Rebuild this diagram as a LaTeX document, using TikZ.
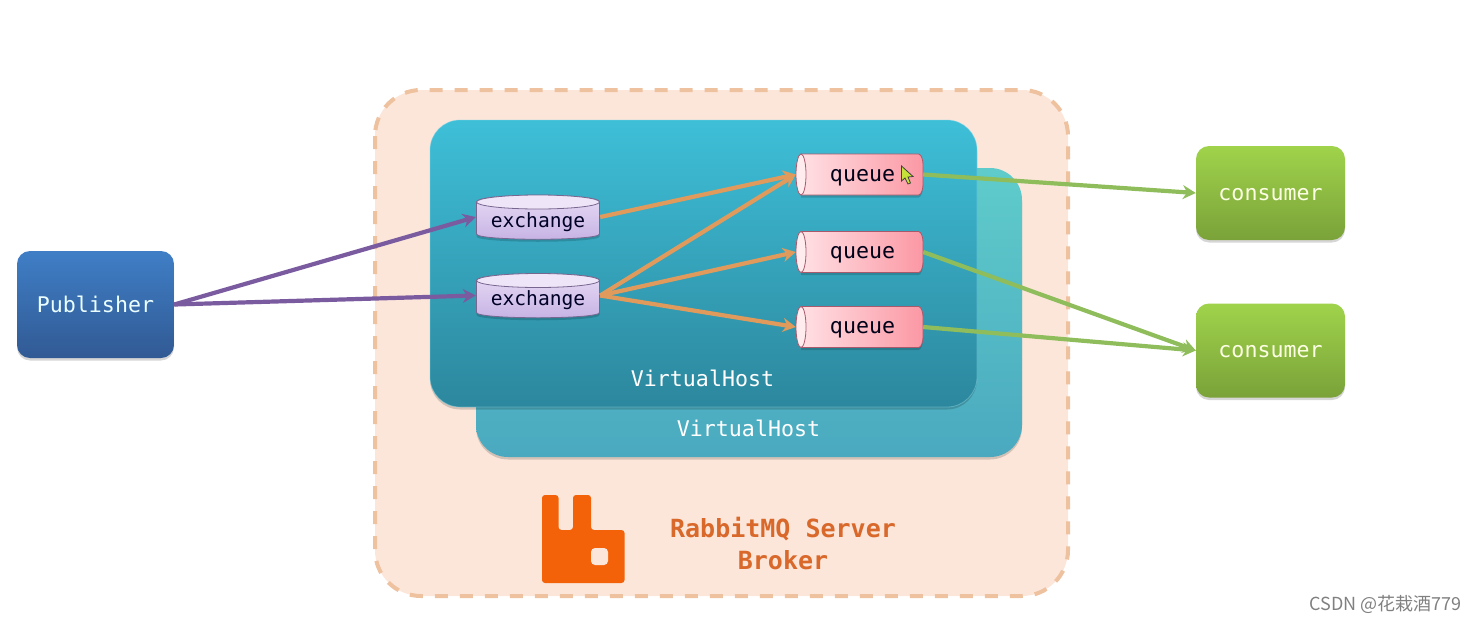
\documentclass[tikz,border=0pt]{standalone}
\usepackage{fontspec}
\setmonofont{DejaVu Sans Mono}
\newfontfamily\cjkwm{Noto Sans CJK SC}
\usetikzlibrary{arrows.meta,shadows}
\definecolor{brokerfill}{HTML}{FCE6DA}
\definecolor{brokerline}{HTML}{EEC19F}
\definecolor{vhbacktop}{HTML}{5FCCCB}
\definecolor{vhbackbot}{HTML}{4AA9BF}
\definecolor{vhfronttop}{HTML}{3EBFD8}
\definecolor{vhfrontbot}{HTML}{2C879D}
\definecolor{pubtop}{HTML}{3F7EC6}
\definecolor{pubbot}{HTML}{315A94}
\definecolor{contop}{HTML}{A0D34B}
\definecolor{conbot}{HTML}{7AA239}
\definecolor{extop}{HTML}{E8DCF5}
\definecolor{exbot}{HTML}{C6B2E4}
\definecolor{exline}{HTML}{77668F}
\definecolor{qleft}{HTML}{FFE0E4}
\definecolor{qright}{HTML}{FB98A4}
\definecolor{qline}{HTML}{A85A6C}
\definecolor{rabbit}{HTML}{F36209}
\definecolor{rabbittext}{HTML}{D9682B}
\definecolor{arrorange}{HTML}{E09A5B}
\definecolor{arrgreen}{HTML}{8FBD5B}
\definecolor{arrpurple}{HTML}{7B5B9F}
\definecolor{pointer}{HTML}{C6E23A}
\tikzset{
  softshadow/.style={drop shadow={shadow xshift=0pt,shadow yshift=-2.5pt,opacity=.16,fill=black}},
  monotext/.style={font=\ttfamily\fontsize{21.6}{24}\selectfont},
  box/.style={rectangle,rounded corners=13,monotext,softshadow,inner sep=0pt},
  publisher/.style={box,top color=pubtop,bottom color=pubbot,text=blue!4!cyan!8!white,minimum width=157,minimum height=107},
  consumer/.style={box,top color=contop,bottom color=conbot,text=green!6!yellow!10!white,minimum width=149,minimum height=94,text height=14.5,text depth=0},
  vhlabel/.style={monotext,text=white,inner sep=0pt},
  exlabel/.style={font=\ttfamily\fontsize{19.6}{22}\selectfont,text=black!85!blue,inner sep=0pt,minimum width=124,minimum height=46,text height=20,text depth=0},
  qlabel/.style={monotext,text=black!90!blue,inner sep=0pt,minimum width=127,minimum height=41,text height=13,text depth=0},
  exbody/.style={draw=exline,line width=.8,top color=extop,bottom color=exbot,softshadow},
  excap/.style={draw=exline,line width=.8,fill=extop!75!white},
  qbody/.style={draw=qline,line width=.8,left color=qleft,right color=qright,softshadow},
  qcap/.style={draw=qline,line width=.8,fill=qleft!60!white},
  flow/.style={line width=4.2,-{Stealth[length=13,width=14]}},
  pflow/.style={flow,draw=arrpurple,arrpurple},
  oflow/.style={flow,draw=arrorange,arrorange},
  gflow/.style={flow,draw=arrgreen,arrgreen},
  brand/.style={font=\ttfamily\bfseries\fontsize{25}{28}\selectfont,text=rabbittext,inner sep=0pt},
}
\newcommand{\exchangenode}[3]{%
  \begin{scope}[shift={(#2,#3)}]
    \path[exbody] (-61.5,-15) -- (-61.5,17) .. controls (-61.5,24) and (61.5,24) .. (61.5,17) -- (61.5,-15) .. controls (61.5,-24) and (-61.5,-24) .. (-61.5,-15) -- cycle;
    \path[excap] (0,-15) ellipse [x radius=61.5,y radius=7];
  \end{scope}
  \node[exlabel] (#1) at (#2,#3) {exchange};
}
\newcommand{\queuenode}[3]{%
  \begin{scope}[shift={(#2,#3)}]
    \path[qbody] (-58.5,-20.5) -- (59,-20.5) .. controls (62,-20.5) and (63.5,-14) .. (63.5,-10) -- (63.5,10) .. controls (63.5,14) and (62,20.5) .. (59,20.5) -- (-58.5,20.5) -- cycle;
    \path[qcap] (-58.5,0) ellipse [x radius=5,y radius=20.5];
  \end{scope}
  \node[qlabel] (#1) at (#2,#3) {\hspace*{6pt}queue};
}
\begin{document}
\begin{tikzpicture}[x=1pt,y=-1pt]
\useasboundingbox (0,0) rectangle (1476,622);
% broker
\draw[fill=brokerfill,draw=brokerline,line width=4,dash pattern=on 13 off 12,rounded corners=46] (375,90) rectangle (1068,596);
% virtual hosts
\path[top color=vhbacktop,bottom color=vhbackbot,rounded corners=32,softshadow] (476,168) rectangle (1022,457);
\path[top color=vhfronttop,bottom color=vhfrontbot,rounded corners=30,softshadow,draw=vhfronttop!60!white,draw opacity=.45,line width=.8] (430,120) rectangle (977,407);
\node[vhlabel] (vh1) at (702.5,378) {VirtualHost};
\node[vhlabel] (vh2) at (748.5,428) {VirtualHost};
% logo
\path[fill=rabbit,rounded corners=3] (542,495) -- (558.5,495) -- (558.5,530) -- (573,530) -- (573,495) -- (591,495) -- (591,530) -- (624.5,530) -- (624.5,583) -- (542,583) -- cycle;
\path[fill=brokerfill,rounded corners=4] (591,548) rectangle (608,565);
\node[brand] (b1) at (783,529.5) {RabbitMQ Server};
\node[brand] (b2) at (783,560.5) {Broker};
% nodes
\node[publisher] (pub) at (95.5,304.5) {Publisher};
\node[consumer] (c1) at (1270.5,193) {consumer};
\node[consumer] (c2) at (1270.5,350.5) {consumer};
\exchangenode{e1}{538}{217}
\exchangenode{e2}{538}{295.5}
\queuenode{q1}{859.5}{174.5}
\queuenode{q2}{859.5}{252}
\queuenode{q3}{859.5}{327}
% connectors
\draw[pflow] (pub.east) -- (e1.west);
\draw[pflow] (pub.east) -- (e2.west);
\draw[oflow] (e1.east) -- (q1.west);
\draw[oflow] (e2.east) -- (q1.west);
\draw[oflow] (e2.east) -- (q2.west);
\draw[oflow] (e2.east) -- (q3.west);
\draw[gflow] (q1.east) -- (c1.west);
\draw[gflow] (q2.east) -- (c2.west);
\draw[gflow] (q3.east) -- (c2.west);
% pointer
\path[fill=pointer,draw=black!75,line width=.8] (901.5,166) -- (901.5,181) -- (905,178) -- (908,184) -- (910.5,183) -- (908,177) -- (913,176.5) -- cycle;
% watermark
\node[font=\cjkwm\fontsize{18}{20}\selectfont,text=black!50,inner sep=0pt,anchor=east] (wm) at (1462,604) {CSDN @花栽酒779};
\end{tikzpicture}
\end{document}
